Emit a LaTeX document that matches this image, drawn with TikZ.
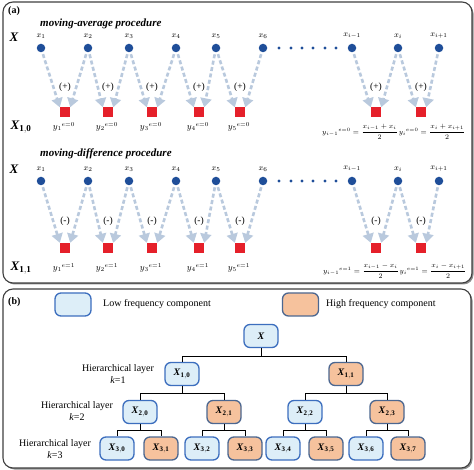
\documentclass[tikz,border=0pt]{standalone}
\usepackage{fontspec}
\usepackage{amsmath}
\setmainfont{Liberation Serif}
\usetikzlibrary{arrows.meta,calc}
\definecolor{dotc}{HTML}{1F4E99}
\definecolor{sqc}{HTML}{E5202A}
\definecolor{arrc}{HTML}{B9C9DD}
\definecolor{lowf}{HTML}{DDEEF8}
\definecolor{lowd}{HTML}{3C6EBE}
\definecolor{highf}{HTML}{F6C29D}
\definecolor{highd}{HTML}{4C6790}
\definecolor{panelc}{HTML}{404040}
\begin{document}
\begin{tikzpicture}[x=1pt,y=-1pt,
 dotn/.style={circle,fill=dotc,minimum size=8.5pt,inner sep=0pt},
 smalldot/.style={circle,fill=dotc,minimum size=3.2pt,inner sep=0pt},
 sqn/.style={rectangle,fill=sqc,minimum size=10pt,inner sep=0pt},
 flow/.style={draw=arrc,line width=2.6pt,dash pattern=on 4pt off 2.5pt,shorten <=2pt,-{Triangle[width=11pt,length=9pt]}},
 xlab/.style={font=\fontsize{8}{9}\selectfont,inner sep=0pt},
 op/.style={font=\fontsize{9.5}{10}\selectfont,inner sep=0pt},
 ylab/.style={font=\fontsize{9}{10}\selectfont,inner sep=0pt},
 fml/.style={font=\fontsize{7}{8}\selectfont,inner sep=0pt},
 ttl/.style={font=\fontsize{11}{12}\selectfont\bfseries\itshape,anchor=west,inner sep=0pt},
 big/.style={font=\fontsize{13}{14}\selectfont\bfseries\itshape,inner sep=0pt},
 tag/.style={font=\fontsize{10}{11}\selectfont\bfseries,anchor=west,inner sep=0pt},
 panel/.style={draw=panelc,line width=1.1pt,rounded corners=10pt,fill=white},
 shadowp/.style={fill=black!45,rounded corners=10pt},
 lowbox/.style={draw=lowd,fill=lowf,line width=1.3pt,rounded corners=6pt,minimum width=34pt,minimum height=23pt,inner sep=0pt,font=\fontsize{10}{11}\selectfont},
 highbox/.style={lowbox,draw=highd,fill=highf},
 treeline/.style={draw=black,line width=0.9pt},
 layer/.style={font=\fontsize{10}{11}\selectfont,align=center,inner sep=0pt},
 legend/.style={font=\fontsize{10}{11}\selectfont,anchor=west,inner sep=0pt}]
\fill[white] (0,0) rectangle (474,470);
\useasboundingbox (0,0) rectangle (474,470);
% panels
\fill[shadowp] (4.5,3.5) rectangle (473.5,284.5);
\draw[panel] (3,2) rectangle (472,283);
\fill[shadowp] (4.5,290.5) rectangle (472.5,469.5);
\draw[panel] (3,289) rectangle (471,468);
\node[tag] (ta) at (8,11) {(a)};
\node[tag] (tb) at (8,302) {(b)};
% ---------- moving-average ----------
\node[ttl] (t1) at (40,24) {moving-average procedure};
\node[big] (X1) at (14,37) {X};
\node[big] (X10l) at (21,127) {X$_{\mathbf{1,0}}$};
\foreach \n/\x/\l in {1/41/{x_1},2/88/{x_2},3/129/{x_3},4/176/{x_4},5/216/{x_5},6/263/{x_6},7/352/{x_{i-1}},8/398/{x_i},9/439/{x_{i+1}}}{
  \node[dotn] (a\n) at (\x,48) {};
  \node[xlab] (al\n) at (\x,36) {$\l$};
  \node[dotn] (b\n) at (\x,181) {};
  \node[xlab] (bl\n) at (\x,169) {$\l$};
}
\foreach \n/\x in {1/279,2/291,3/302,4/313,5/325,6/336}{
  \node[smalldot] (ad\n) at (\x,48) {};
  \node[smalldot] (bd\n) at (\x,181) {};
}
\foreach \n/\x/\p/\q in {1/65/1/2,2/108/2/3,3/152/3/4,4/199/4/5,5/240/5/6,6/376/7/8,7/421/8/9}{
  \node[sqn] (as\n) at (\x,112.5) {};
  \draw[flow] (a\p) -- (as\n.north west);
  \draw[flow] (a\q) -- (as\n.north east);
  \node[op] (ao\n) at (\x,87) {(+)};
  \node[sqn] (bs\n) at (\x,248) {};
  \draw[flow] (b\p) -- (bs\n.north west);
  \draw[flow] (b\q) -- (bs\n.north east);
  \node[op] (bo\n) at (\x,221) {(-)};
}
\foreach \n/\x in {1/64,2/107,3/151,4/198,5/239}{
  \node[ylab] (ay\n) at (\x,127) {$y_\n{}^{e=0}$};
  \node[ylab] (by\n) at (\x,268) {$y_\n{}^{e=1}$};
}
\node[fml] (af1) at (360,132) {$y_{i-1}{}^{e=0}=\dfrac{x_{i-1}+x_i}{2}$};
\node[fml] (af2) at (432,132) {$y_{i}{}^{e=0}=\dfrac{x_{i}+x_{i+1}}{2}$};
% ---------- moving-difference ----------
\node[ttl] (t2) at (40,154) {moving-difference procedure};
\node[big] (X2) at (14,169) {X};
\node[big] (X11l) at (21,268) {X$_{\mathbf{1,1}}$};
\node[fml] (bf1) at (361,271) {$y_{i-1}{}^{e=1}=\dfrac{x_{i-1}-x_i}{2}$};
\node[fml] (bf2) at (433,271) {$y_{i}{}^{e=1}=\dfrac{x_{i}-x_{i+1}}{2}$};
% ---------- panel b ----------
\node[lowbox,minimum width=36pt] (lg1) at (73,304.5) {};
\node[legend] (lt1) at (103,304) {Low frequency component};
\node[highbox,minimum width=36pt] (lg2) at (300.5,304.5) {};
\node[legend] (lt2) at (326,304) {High frequency component};
\newcommand{\xb}[1]{\textbf{\textit{X}}$_{\mathbf{#1}}$}
\node[lowbox] (X) at (261,336) {\textbf{\textit{X}}};
\node[lowbox] (X10) at (182,374) {\xb{1,0}};
\node[highbox] (X11) at (346,374) {\xb{1,1}};
\node[lowbox] (X20) at (140,412) {\xb{2,0}};
\node[highbox] (X21) at (224,412) {\xb{2,1}};
\node[lowbox] (X22) at (305,412) {\xb{2,2}};
\node[highbox] (X23) at (387,412) {\xb{2,3}};
\node[lowbox] (X30) at (117,448.5) {\xb{3,0}};
\node[highbox] (X31) at (161,448.5) {\xb{3,1}};
\node[lowbox] (X32) at (202,448.5) {\xb{3,2}};
\node[highbox] (X33) at (245,448.5) {\xb{3,3}};
\node[lowbox] (X34) at (283,448.5) {\xb{3,4}};
\node[highbox] (X35) at (326,448.5) {\xb{3,5}};
\node[lowbox] (X36) at (366,448.5) {\xb{3,6}};
\node[highbox] (X37) at (408,448.5) {\xb{3,7}};
\coordinate (h0) at (0,356);
\coordinate (h1) at (0,393);
\coordinate (h2) at (0,430);
\draw[treeline] (X.south) -- (X.south |- h0);
\draw[treeline] (X10.north) |- (X11.north |- h0) -- (X11.north);
\foreach \p/\a/\b/\h in {X10/X20/X21/h1,X11/X22/X23/h1,X20/X30/X31/h2,X21/X32/X33/h2,X22/X34/X35/h2,X23/X36/X37/h2}{
  \draw[treeline] (\p.south) -- (\p.south |- \h);
  \draw[treeline] (\a.north) |- (\b.north |- \h) -- (\b.north);
}
\node[layer] (L1) at (118,374.5) {Hierarchical layer\\[1pt]\textit{k}=1};
\node[layer] (L2) at (77,411) {Hierarchical layer\\[1pt]\textit{k}=2};
\node[layer] (L3) at (55,449.5) {Hierarchical layer\\[1pt]\textit{k}=3};
\end{tikzpicture}
\end{document}
